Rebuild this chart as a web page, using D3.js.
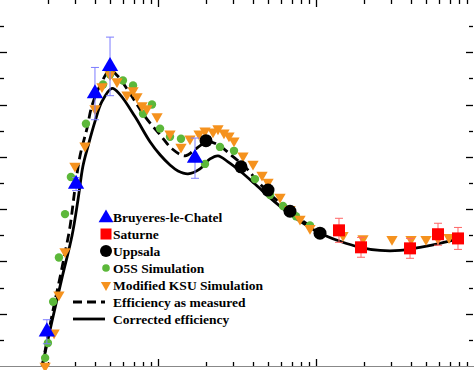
<!DOCTYPE html>
<html>
<head>
<meta charset="utf-8">
<script src="https://cdn.jsdelivr.net/npm/d3@7"></script>
<style>
  body { margin: 0; background: #fff; }
  svg { display: block; }
</style>
</head>
<body>
<svg id="chart" width="474" height="370"></svg>
<script>
// neutron energy in MeV, efficiency in %
var bruyE   = [1.98, 3.03, 3.99, 4.97, 17.15];
var bruyEff = [1.31, 6.96, 10.42, 11.46, 7.95];
var bruyErr = [0.46, 0.25, 1.0, 1.12, 0.77];

var satE   = [139.8, 192.7, 393.6, 591.8, 792.0];
var satEff = [5.19, 4.54, 4.50, 5.04, 4.88];
var satErr = [0.46, 0.38, 0.38, 0.42, 0.42];

var uppE   = [20.13, 33.53, 49.69, 68.46, 106.0];
var uppEff = [8.62, 7.62, 6.73, 5.92, 5.08];

var ossE   = [1.93, 2.01, 2.17, 2.36, 2.58, 2.81, 3.50, 4.49, 4.97, 6.00, 6.95, 8.04, 9.16, 10.3, 11.91, 13.98, 19.84, 24.68, 30.27, 41.1, 51.2, 61.8, 74.7, 91.6];
var ossEff = [0.31, 0.88, 2.46, 4.15, 5.81, 7.23, 9.27, 10.77, 11.15, 10.92, 10.73, 9.65, 10.0, 9.08, 8.77, 8.69, 7.73, 8.38, 8.23, 7.15, 6.54, 6.12, 5.73, 5.38];

var ksuE   = [1.93, 2.20, 2.36, 2.58, 2.98, 3.45, 3.99, 4.42, 4.97, 5.50, 6.36, 6.95, 7.36, 7.92, 8.52, 9.86, 11.91, 13.98, 15.94, 18.18, 19.84, 22.29, 23.97, 26.16, 28.14, 30.27, 34.51, 39.93, 45.53, 49.69, 59.2, 68.5, 79.2, 91.6, 148.3, 198.4, 302.7, 399.4, 496.9, 591.8, 694.9];
var ksuEff = [0.0, 1.27, 2.73, 4.38, 7.65, 8.42, 9.85, 10.69, 11.15, 10.88, 10.38, 10.54, 10.31, 9.96, 9.85, 9.54, 8.88, 8.38, 8.69, 8.88, 9.0, 8.96, 9.08, 8.92, 8.81, 8.62, 8.04, 7.73, 7.31, 7.04, 6.46, 6.0, 5.62, 5.27, 5.0, 4.88, 4.85, 4.85, 4.85, 4.88, 4.92];

var measE   = [1.85, 2.13, 2.47, 2.77, 2.98, 3.21, 3.55, 3.82, 4.42, 4.97, 5.58, 6.65, 8.28, 10.3, 12.26, 14.83, 17.40, 20.42, 23.97, 29.4, 35.53, 44.23, 59.18, 79.18, 103.0];
var measEff = [0.0, 1.92, 3.77, 5.31, 6.77, 8.04, 9.08, 9.96, 10.88, 11.31, 11.08, 10.42, 9.54, 8.85, 8.31, 8.04, 8.31, 8.58, 8.46, 8.04, 7.62, 6.96, 6.23, 5.62, 5.15];

var corrE   = [1.85, 2.13, 2.47, 2.86, 3.12, 3.35, 3.61, 3.99, 4.42, 5.12, 5.75, 7.15, 8.90, 10.3, 11.91, 13.39, 15.49, 18.45, 21.34, 23.97, 27.73, 33.04, 41.11, 55.02, 79.18, 106.0, 141.9, 189.9, 254.2, 340.1, 455.2, 609.2, 815.4];
var corrEff = [0.0, 1.69, 3.38, 5.0, 6.38, 7.65, 8.42, 9.35, 10.12, 10.62, 10.38, 9.54, 8.58, 8.08, 7.69, 7.46, 7.35, 7.54, 7.92, 8.04, 7.81, 7.46, 6.96, 6.27, 5.54, 5.08, 4.77, 4.54, 4.42, 4.42, 4.54, 4.69, 4.88];

var legendLabels = ["Bruyeres-le-Chatel", "Saturne", "Uppsala", "O5S Simulation", "Modified KSU Simulation", "Efficiency as measured", "Corrected efficiency"];

var svg = d3.select("#chart");

var x = d3.scaleLog().domain([1, 1000]).range([0, 474]);
var y = d3.scaleLinear().domain([0, 14]).range([366, 0]);

function zip(a, b, c) {
    return a.map(function (v, i) { return {e: v, f: b[i], err: c ? c[i] : 0}; });
}

// only the bottom axis line shows in the crop
svg.append("line")
    .attr("x1", 0).attr("x2", 474).attr("y1", 366.5).attr("y2", 366.5)
    .attr("stroke", "#888").attr("stroke-width", 1);

// ticks, all pointing inward
var xMajor = [10, 100];
var xMinor = x.ticks().filter(function (t) { return xMajor.indexOf(t) < 0 && t > 1 && t < 1000; });
var yAll = d3.range(1, 14);
var yMajor = yAll.filter(function (t) { return t % 2 === 0; });
var yMinor = yAll.filter(function (t) { return t % 2 !== 0; });

var tk = svg.append("g").attr("stroke", "#000").attr("stroke-width", 1.3);
function vTicks(vals, len) {
    vals.forEach(function (v) {
        var px = Math.round(x(v)) + 0.5;
        tk.append("line").attr("x1", px).attr("x2", px).attr("y1", 366).attr("y2", 366 - len);
        tk.append("line").attr("x1", px).attr("x2", px).attr("y1", 0).attr("y2", len);
    });
}
function hTicks(vals, len) {
    vals.forEach(function (v) {
        var py = Math.round(y(v)) + 0.5;
        tk.append("line").attr("x1", 0).attr("x2", len).attr("y1", py).attr("y2", py);
        tk.append("line").attr("x1", 473).attr("x2", 473 - len).attr("y1", py).attr("y2", py);
    });
}
vTicks(xMinor, 4);
vTicks(xMajor, 7);
hTicks(yMinor, 4);
hTicks(yMajor, 7);

// curves
var line = d3.line()
    .x(function (d) { return x(d.e); })
    .y(function (d) { return y(d.f); })
    .curve(d3.curveCatmullRom.alpha(0.5));

svg.append("path").datum(zip(corrE, corrEff))
    .attr("d", line).attr("fill", "none")
    .attr("stroke", "#000").attr("stroke-width", 2.8);

svg.append("path").datum(zip(measE, measEff))
    .attr("d", line).attr("fill", "none")
    .attr("stroke", "#000").attr("stroke-width", 2.8)
    .attr("stroke-dasharray", "9,5");

// simulations
var green = "#5cb83a", orange = "#f5921e";
svg.append("g").selectAll("circle").data(zip(ossE, ossEff)).join("circle")
    .attr("cx", function (d) { return x(d.e); })
    .attr("cy", function (d) { return y(d.f); })
    .attr("r", 4.2).attr("fill", green);

var triDown = d3.symbol().type(d3.symbolTriangle).size(55);
svg.append("g").selectAll("path").data(zip(ksuE, ksuEff)).join("path")
    .attr("d", triDown)
    .attr("transform", function (d) { return "translate(" + x(d.e) + "," + y(d.f) + ") rotate(180)"; })
    .attr("fill", orange);

// error bars
function errBars(data, color) {
    var g = svg.append("g").attr("stroke", color).attr("stroke-width", 1);
    data.forEach(function (d) {
        var cx = x(d.e), y0 = y(d.f - d.err), y1 = y(d.f + d.err);
        g.append("line").attr("x1", cx).attr("x2", cx).attr("y1", y0).attr("y2", y1);
        g.append("line").attr("x1", cx - 4).attr("x2", cx + 4).attr("y1", y0).attr("y2", y0);
        g.append("line").attr("x1", cx - 4).attr("x2", cx + 4).attr("y1", y1).attr("y2", y1);
    });
}
var bruy = zip(bruyE, bruyEff, bruyErr);
var sat = zip(satE, satEff, satErr);
errBars(bruy, "#7c7cff");
errBars(sat, "#ff6666");

svg.append("g").selectAll("circle").data(zip(uppE, uppEff)).join("circle")
    .attr("cx", function (d) { return x(d.e); })
    .attr("cy", function (d) { return y(d.f); })
    .attr("r", 6.5).attr("fill", "#000");

var triUp = d3.symbol().type(d3.symbolTriangle).size(115);
svg.append("g").selectAll("path").data(bruy).join("path")
    .attr("d", triUp)
    .attr("transform", function (d) { return "translate(" + x(d.e) + "," + y(d.f) + ")"; })
    .attr("fill", "#0000ff");

svg.append("g").selectAll("rect").data(sat).join("rect")
    .attr("x", function (d) { return x(d.e) - 6; })
    .attr("y", function (d) { return y(d.f) - 6; })
    .attr("width", 12).attr("height", 12)
    .attr("fill", "#ff0000");

// legend
var lg = svg.append("g");
var rowY = [217, 234, 251, 268, 285, 302, 319];
var mx = 106;
lg.append("path").attr("d", d3.symbol().type(d3.symbolTriangle).size(95))
    .attr("transform", "translate(" + mx + "," + (rowY[0] + 1) + ")").attr("fill", "#0000ff");
lg.append("rect").attr("x", mx - 5.5).attr("y", rowY[1] - 5.5).attr("width", 11).attr("height", 11).attr("fill", "#ff0000");
lg.append("circle").attr("cx", mx).attr("cy", rowY[2]).attr("r", 6).attr("fill", "#000");
lg.append("circle").attr("cx", mx).attr("cy", rowY[3]).attr("r", 3.8).attr("fill", green);
lg.append("path").attr("d", d3.symbol().type(d3.symbolTriangle).size(45))
    .attr("transform", "translate(" + mx + "," + rowY[4] + ") rotate(180)").attr("fill", orange);
lg.append("line").attr("x1", 73).attr("x2", 105).attr("y1", rowY[5]).attr("y2", rowY[5])
    .attr("stroke", "#000").attr("stroke-width", 2.8).attr("stroke-dasharray", "9,5");
lg.append("line").attr("x1", 73).attr("x2", 105).attr("y1", rowY[6]).attr("y2", rowY[6])
    .attr("stroke", "#000").attr("stroke-width", 2.8);

lg.selectAll("text").data(legendLabels).join("text")
    .attr("x", 113)
    .attr("y", function (d, i) { return rowY[i] + 4.5; })
    .attr("font-family", "'Liberation Serif', 'Times New Roman', serif")
    .attr("font-weight", "bold")
    .attr("font-size", "13.5px")
    .attr("fill", "#000")
    .text(function (d) { return d; });
</script>
</body>
</html>
